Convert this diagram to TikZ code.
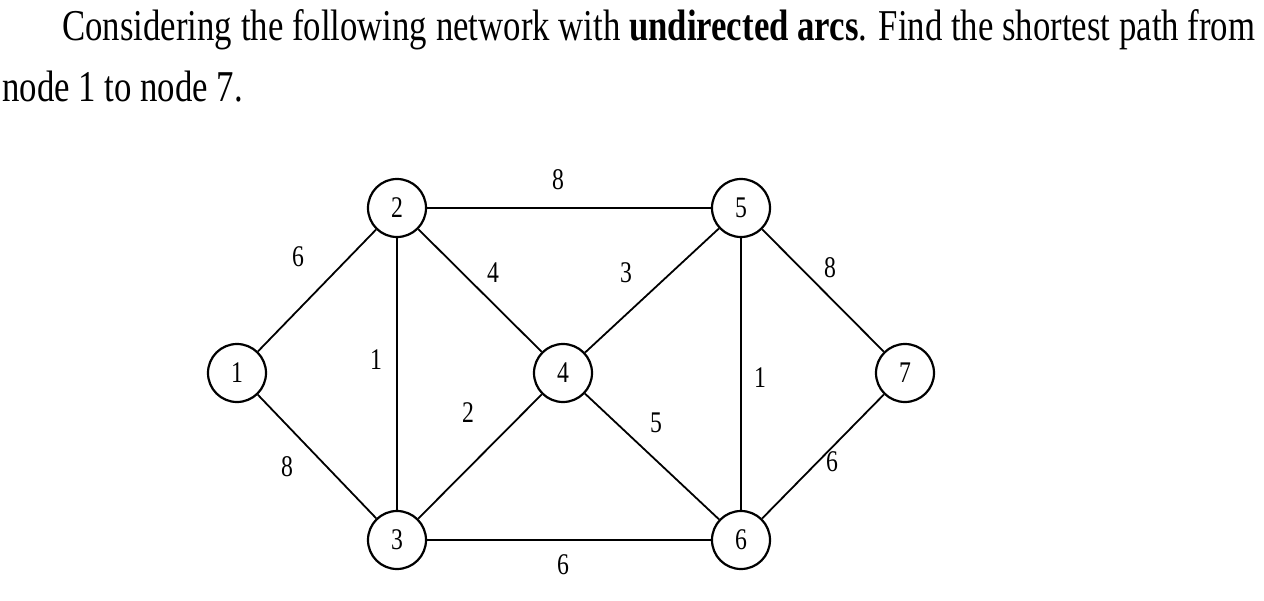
\documentclass[tikz,border=0pt]{standalone}
\usepackage{fontspec}
\setmainfont{Liberation Serif}[FakeStretch=0.79]
\begin{document}
\begin{tikzpicture}[x=0.5pt,y=-0.5pt,
  v/.style={circle,draw,line width=1.1pt,minimum size=29pt,inner sep=0pt,font=\fontsize{15}{15}\selectfont},
  e/.style={line width=0.9pt},
  w/.style={font=\fontsize{15}{15}\selectfont,inner sep=0pt},
  t/.style={font=\fontsize{22}{22}\selectfont,inner sep=0pt,anchor=base west}]
\useasboundingbox (0,0) rectangle (1264,600);
\node[t] (l1) at (62,40) {Considering the following network with \textbf{undirected arcs}. Find the shortest path from};
\node[t] (l2) at (2,101) {node 1 to node 7.};
\node[v] (n1) at (237,373) {1};
\node[v] (n2) at (397,208) {2};
\node[v] (n3) at (397,540) {3};
\node[v] (n4) at (563,373) {4};
\node[v] (n5) at (741,208) {5};
\node[v] (n6) at (741,540) {6};
\node[v] (n7) at (905,373) {7};
\draw[e] (n1)--(n2); \draw[e] (n1)--(n3);
\draw[e] (n2)--(n5); \draw[e] (n2)--(n3); \draw[e] (n2)--(n4);
\draw[e] (n3)--(n4); \draw[e] (n3)--(n6);
\draw[e] (n4)--(n5); \draw[e] (n4)--(n6);
\draw[e] (n5)--(n6); \draw[e] (n5)--(n7); \draw[e] (n6)--(n7);
\node[w] (a) at (298,257) {6};
\node[w] (b) at (558,180) {8};
\node[w] (c) at (493,273) {4};
\node[w] (d) at (626,273) {3};
\node[w] (f) at (830,268) {8};
\node[w] (g) at (376,360) {1};
\node[w] (h) at (468,413) {2};
\node[w] (i) at (656,423) {5};
\node[w] (j) at (760,378) {1};
\node[w] (k) at (287,467) {8};
\node[w] (m) at (832,462) {6};
\node[w] (o) at (563,565) {6};
\end{tikzpicture}
\end{document}
